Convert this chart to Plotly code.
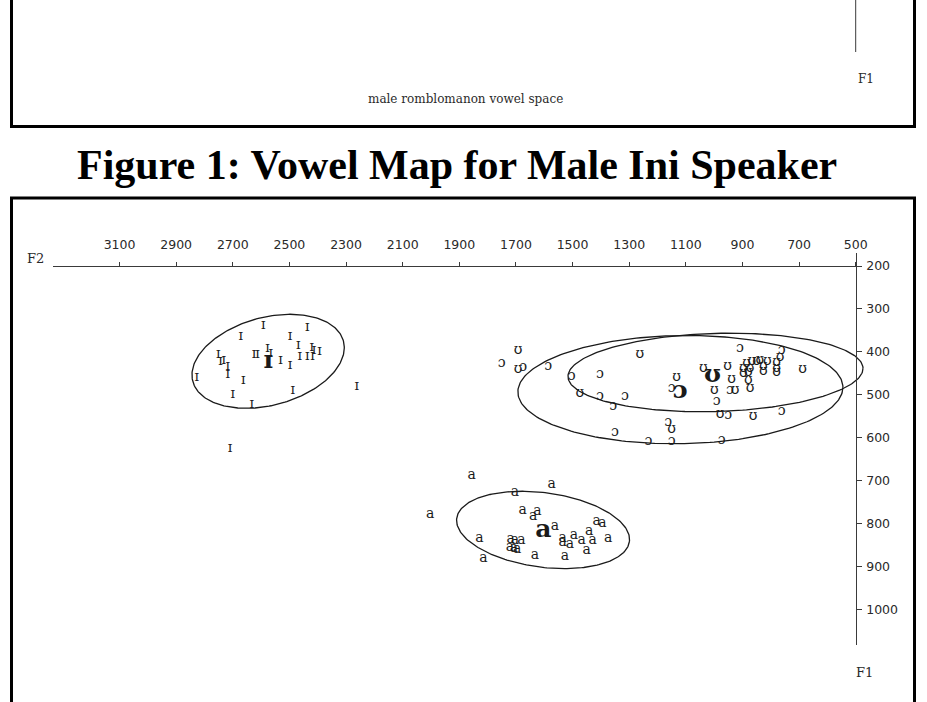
import numpy as np
import plotly.graph_objects as go

# vowel tokens: F2 / F1 in Hz
IH_F2 = [2592, 2437, 2672, 2498, 2469, 2421, 2413, 2394, 2577, 2613, 2625, 2566, 2751, 2743, 2732,
         2718, 2718, 2463, 2437, 2418, 2531, 2498, 2663, 2827, 2700, 2488, 2633, 2262, 2710]
IH_F1 = [338, 343, 365, 365, 386, 390, 396, 400, 392, 407, 407, 404, 407, 423, 419,
         435, 452, 410, 411, 411, 421, 431, 467, 459, 499, 489, 522, 480, 625]

UH_F2 = [1692, 1692, 1474, 1262, 1132, 1038, 952, 938, 926, 999, 979, 1150, 767, 885, 867, 850,
         838, 812, 779, 897, 873, 826, 779, 897, 879, 826, 779, 687, 879, 873, 862]
UH_F1 = [396, 442, 497, 406, 460, 438, 435, 464, 489, 489, 547, 580, 413, 427, 423, 423,
         421, 423, 425, 438, 438, 435, 438, 450, 449, 446, 448, 442, 466, 485, 550]

OH_F2 = [1750, 1674, 1586, 1503, 1403, 1403, 1356, 1350, 1315, 909, 1150, 944, 991, 950, 1162,
         1232, 1150, 973, 761, 761]
OH_F1 = [427, 437, 435, 458, 452, 505, 528, 588, 505, 392, 485, 489, 516, 549, 564,
         610, 610, 606, 397, 540]

A_F2 = [1856, 1574, 1703, 2003, 1676, 1639, 1624, 1562, 1415, 1394, 1829, 1718, 1703, 1680, 1721,
        1707, 1695, 1535, 1535, 1509, 1495, 1468, 1441, 1429, 1374, 1633, 1527, 1450, 1815]
A_F1 = [687, 708, 728, 780, 769, 783, 773, 808, 796, 800, 835, 837, 839, 839, 856,
        858, 860, 835, 845, 849, 829, 839, 819, 839, 835, 874, 878, 864, 881]

# vowel means (large bold symbols)
MEAN_LABELS = ["ɪ", "ʊ", "ɔ", "a"]
MEAN_F2 = [2575, 1006, 1120, 1603]
MEAN_F1 = [423, 455, 493, 817]

# ellipses: centre plus two conjugate half-axes, in Hz (ɪ, ʊ, ɔ, a)
ELL_C_F2 = [2575, 995, 1119, 1604]
ELL_C_F1 = [422, 448, 488, 815]
ELL_U_F2 = [-266, -521, -574, -305]
ELL_U_F1 = [-47, -10, -6, 27]
ELL_V_F2 = [-40, -4, -3, 17]
ELL_V_F1 = [99, 91, 126, 86]

F2_TICKS = list(range(3100, 499, -200))
F1_TICKS = list(range(200, 1001, 100))

W, H = 927, 702
INK = "#1a1a1a"
AXIS = "#3a3a3a"
SERIF = "DejaVu Serif, Liberation Serif, serif"


def px(x):
    return x / W


def py(y):
    return 1 - y / H


def label(text, x, y, size, family=SERIF, color="#2a2a2a"):
    return dict(text=text, x=px(x), y=py(y), xref="paper", yref="paper",
                xanchor="center", yanchor="middle", showarrow=False,
                font=dict(family=family, size=size, color=color))


fig = go.Figure()

for f2, f1, sym in [(IH_F2, IH_F1, "ɪ"), (UH_F2, UH_F1, "ʊ"), (OH_F2, OH_F1, "ɔ"), (A_F2, A_F1, "a")]:
    fig.add_trace(go.Scatter(
        x=f2, y=f1, mode="text", text=[sym] * len(f2),
        textfont=dict(family=SERIF, size=14, color=INK),
        hoverinfo="skip", showlegend=False,
    ))

fig.add_trace(go.Scatter(
    x=MEAN_F2, y=MEAN_F1, mode="text", text=[f"<b>{s}</b>" for s in MEAN_LABELS],
    textfont=dict(family=SERIF, size=25, color=INK),
    hoverinfo="skip", showlegend=False,
))

t = np.linspace(0, 2 * np.pi, 240)
for i in range(len(ELL_C_F2)):
    fig.add_trace(go.Scatter(
        x=ELL_C_F2[i] + ELL_U_F2[i] * np.cos(t) + ELL_V_F2[i] * np.sin(t),
        y=ELL_C_F1[i] + ELL_U_F1[i] * np.cos(t) + ELL_V_F1[i] * np.sin(t),
        mode="lines", line=dict(color=INK, width=1.3),
        hoverinfo="skip", showlegend=False,
    ))

# empty trace so the drawn F2/F1 axes get their own subplot
fig.add_trace(go.Scatter(x=[], y=[], xaxis="x2", yaxis="y2", showlegend=False))

axfont = dict(family="DejaVu Sans, Verdana, sans-serif", size=12.5, color="#2a2a2a")

fig.update_layout(
    width=939, height=H,  # screenshot came out ~1.3% narrow at 927
    margin=dict(l=0, r=0, t=0, b=0),
    paper_bgcolor="white", plot_bgcolor="rgba(0,0,0,0)",
    # full-frame data axes (hidden)
    xaxis=dict(range=[3522, 248], domain=[0, 1], visible=False),
    yaxis=dict(range=[1216, -420], domain=[0, 1], visible=False),
    # the chart's own F2 / F1 axes
    xaxis2=dict(
        range=[3335, 500], domain=[px(53), px(855.7)], side="top",
        anchor="free", position=py(266),
        tickvals=F2_TICKS, ticks="outside", ticklen=4, tickcolor=AXIS,
        showline=True, linecolor=AXIS, linewidth=1,
        showgrid=False, zeroline=False, tickfont=axfont, ticklabelstandoff=8,
    ),
    yaxis2=dict(
        range=[1083.4, 169.7], domain=[py(645), py(253)], side="right",
        anchor="free", position=px(855.7),
        tickvals=F1_TICKS, ticks="outside", ticklen=5, tickcolor=AXIS,
        showline=True, linecolor=AXIS, linewidth=1,
        showgrid=False, zeroline=False, tickfont=axfont, ticklabelstandoff=2,
    ),
    shapes=[
        # previous figure's frame (cut at top) and this figure's frame (cut at bottom)
        dict(type="rect", xref="paper", yref="paper", x0=px(11.5), x1=px(914.5),
             y0=py(126.5), y1=py(-20), line=dict(color="black", width=3)),
        dict(type="rect", xref="paper", yref="paper", x0=px(11.5), x1=px(914.5),
             y0=py(730), y1=py(198), line=dict(color="black", width=3)),
        dict(type="line", xref="paper", yref="paper", x0=px(855.7), x1=px(855.7),
             y0=py(-5), y1=py(52), line=dict(color=AXIS, width=1)),
    ],
    annotations=[
        label("F1", 866, 79, 12),
        label("male romblomanon vowel space", 466, 99, 12),
        label("<b>Figure 1: Vowel Map for Male Ini Speaker</b>", 456.5, 165, 42,
              family="Liberation Serif, Times New Roman, serif", color="black"),
        label("F2", 35, 258, 13),
        label("F1", 864, 672, 13),
    ],
)

# page body margin off so the figure fills the window
fig.write_html("out.html", config={"displayModeBar": False},
               post_script="document.body.style.margin='0';document.body.style.overflow='hidden';")
